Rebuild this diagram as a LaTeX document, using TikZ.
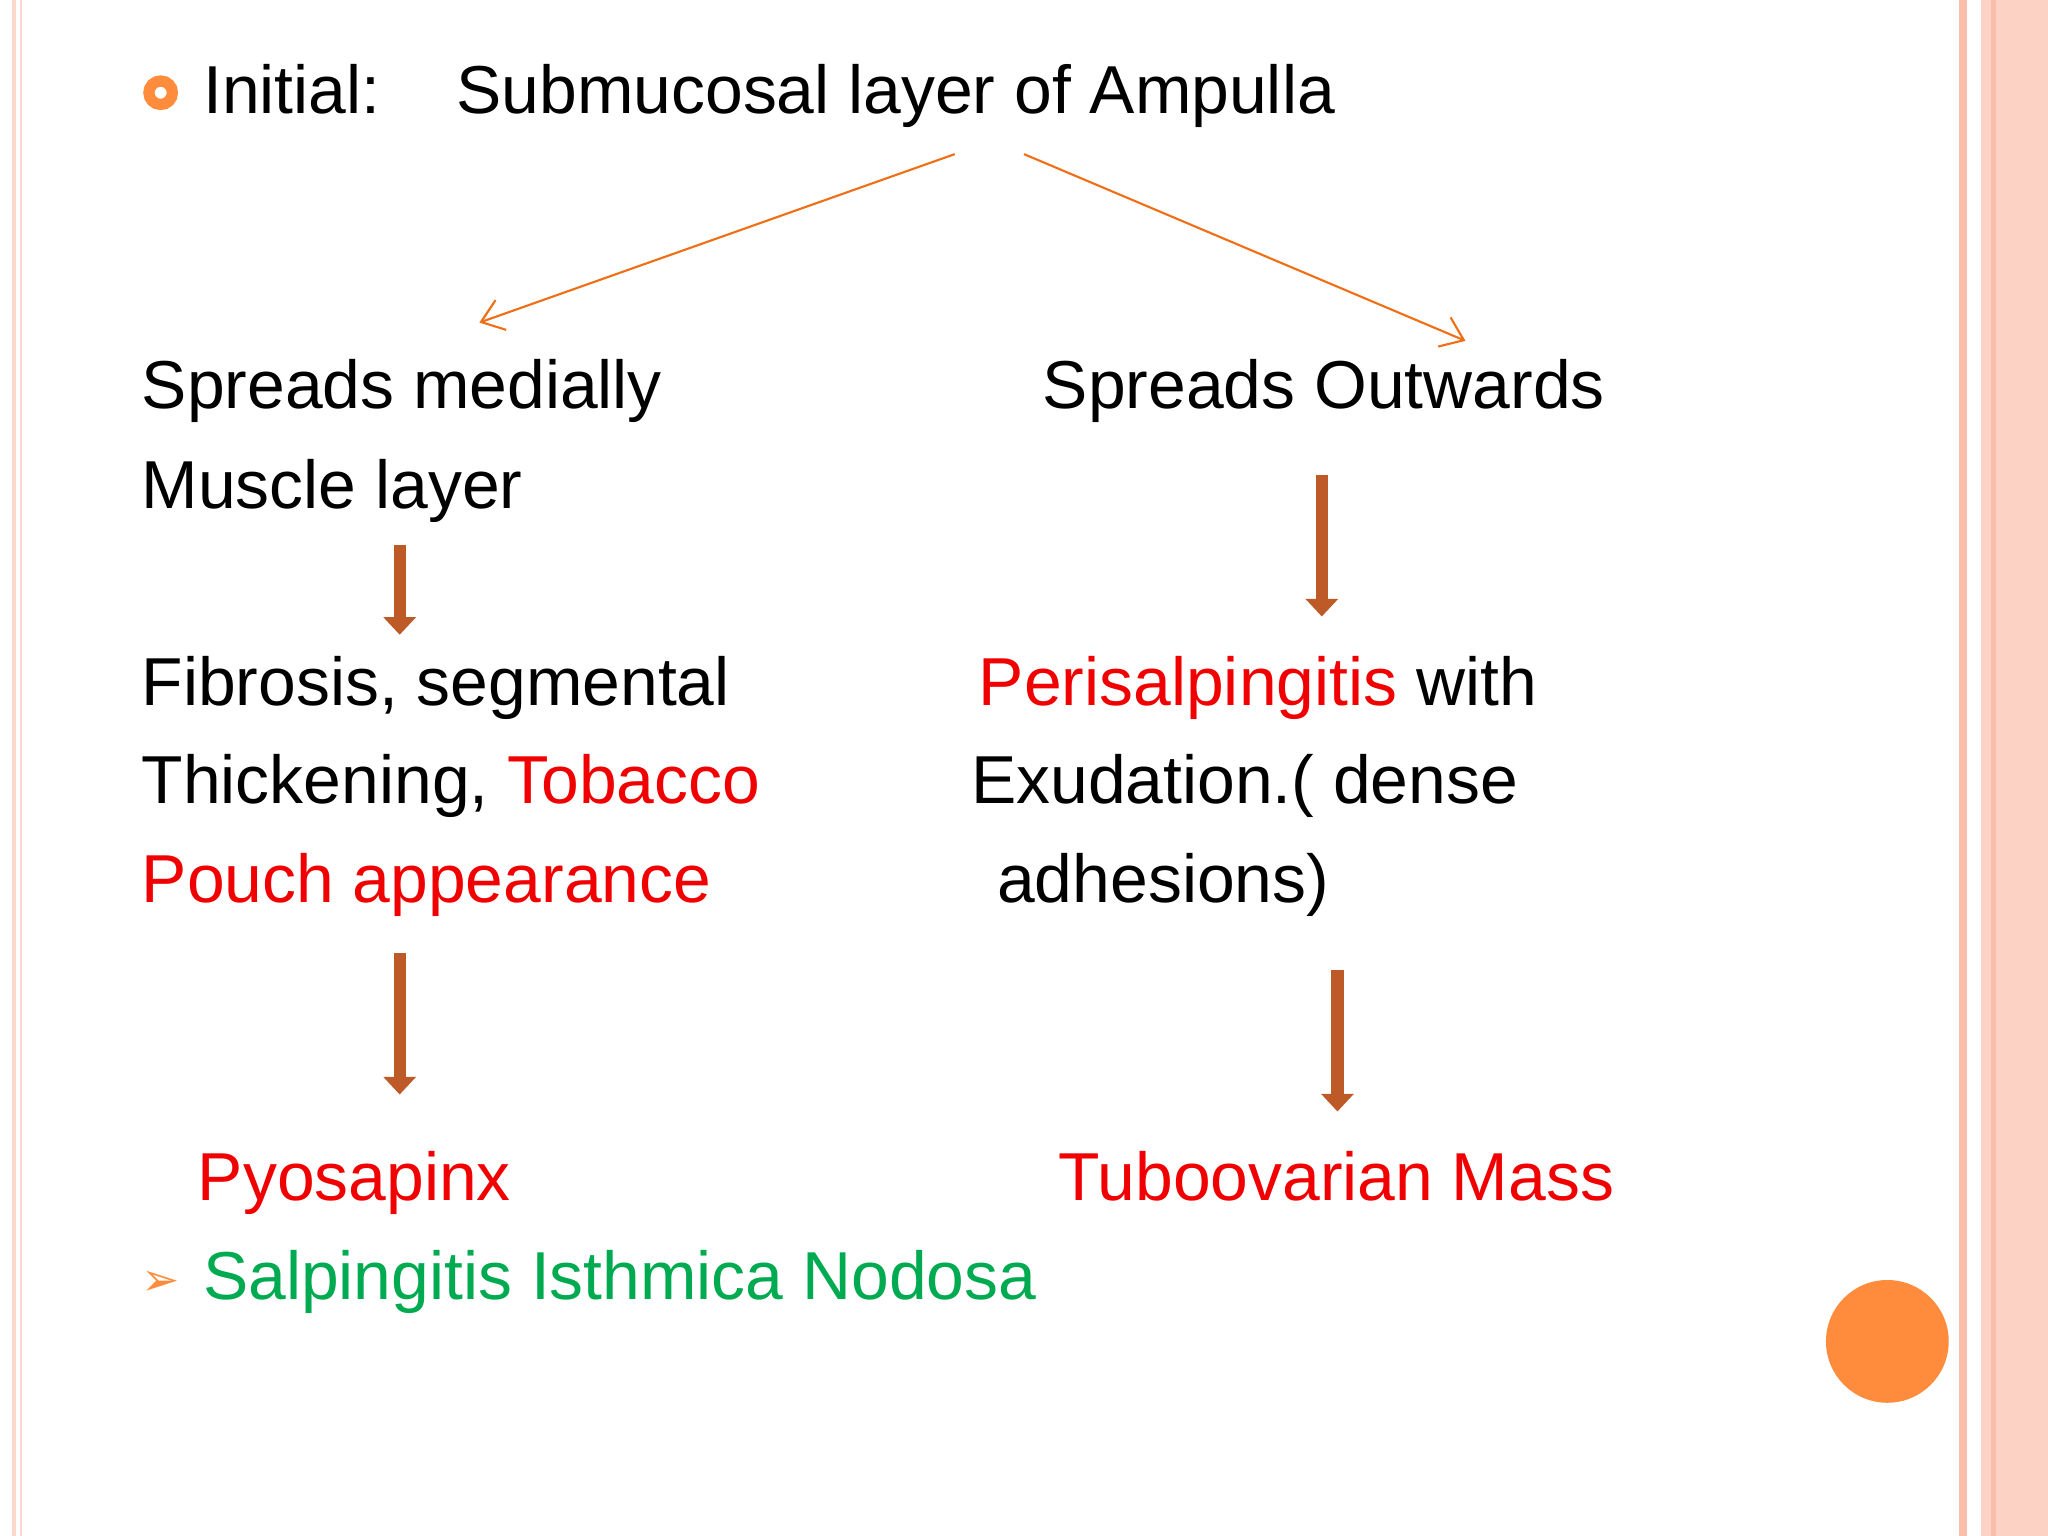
\documentclass[tikz,border=0pt]{standalone}
\usepackage{fontspec}
\setmainfont{Liberation Sans}
\newfontfamily\symfont{DejaVu Sans}
\usetikzlibrary{arrows.meta}
\definecolor{orng}{RGB}{240,110,20}
\definecolor{dotorng}{RGB}{255,140,60}
\definecolor{brwn}{RGB}{190,90,40}
\definecolor{txtred}{RGB}{240,0,0}
\definecolor{txtgreen}{RGB}{0,170,80}
\definecolor{pinkline}{RGB}{250,190,170}
\tikzset{
  txt/.style={anchor=base west,inner sep=0pt,font=\fontsize{19.3pt}{23pt}\selectfont},
  thin arrow/.style={draw=orng,line width=0.6pt,-{Straight Barb[length=6pt,width=9pt]}},
  thick arrow/.style={draw=brwn,line width=3.5pt,-{Triangle[length=5pt,width=9pt]}}
}
\begin{document}
\begin{tikzpicture}[x=0.013061cm,y=-0.013061cm]
\useasboundingbox (0,0) rectangle (1568,1176);
\fill[white] (0,0) rectangle (1568,1176);
%%% borders
\fill[pinkline!60] (9,0) rectangle (12,1176);
\fill[pinkline!60] (15,0) rectangle (17,1176);
\fill[pinkline] (1500,0) rectangle (1506,1176);
\fill[pinkline!70] (1517,0) rectangle (1568,1176);
\fill[pinkline] (1524,0) rectangle (1528,1176);
%%% bullets
\draw[dotorng,line width=3.2pt] (123,71) circle (9);
\node[txt,text=dotorng,font=\symfont\fontsize{13pt}{15pt}\selectfont] (blt) at (108,992) {➢};
\fill[dotorng] (1445,1027) circle (47);
%%% texts
\node[txt] (init) at (155,87) {Initial:};
\node[txt] (sub) at (349,87) {Submucosal layer of Ampulla};
\node[txt] (med) at (108,313) {Spreads medially};
\node[txt] (mus) at (108,389) {Muscle layer};
\node[txt] (fib) at (108,540) {Fibrosis, segmental};
\node[txt] (thk) at (108,615) {Thickening, \textcolor{txtred}{Tobacco}};
\node[txt,text=txtred] (pch) at (108,691) {Pouch appearance};
\node[txt,text=txtred] (pyo) at (151,919) {Pyosapinx};
\node[txt,text=txtgreen] (sin) at (155,995) {Salpingitis Isthmica Nodosa};
\node[txt] (out) at (798,313) {Spreads Outwards};
\node[txt] (per) at (749,540) {\textcolor{txtred}{Perisalpingitis} with};
\node[txt] (exu) at (743,615) {Exudation.( dense};
\node[txt] (adh) at (763,691) {adhesions)};
\node[txt,text=txtred] (tom) at (810,919) {Tuboovarian Mass};
%%% arrows
\coordinate (a1) at (731,118); \coordinate (b1) at (367,247);
\coordinate (a2) at (784,118); \coordinate (b2) at (1122,261);
\draw[thin arrow] (a1) -- (b1);
\draw[thin arrow] (a2) -- (b2);
\foreach \s/\e/\x in {417/486/306, 730/838/306, 364/472/1012, 743/851/1024}{
\draw[thick arrow] (\x,\s) -- (\x,\e);
}
\end{tikzpicture}
\end{document}
